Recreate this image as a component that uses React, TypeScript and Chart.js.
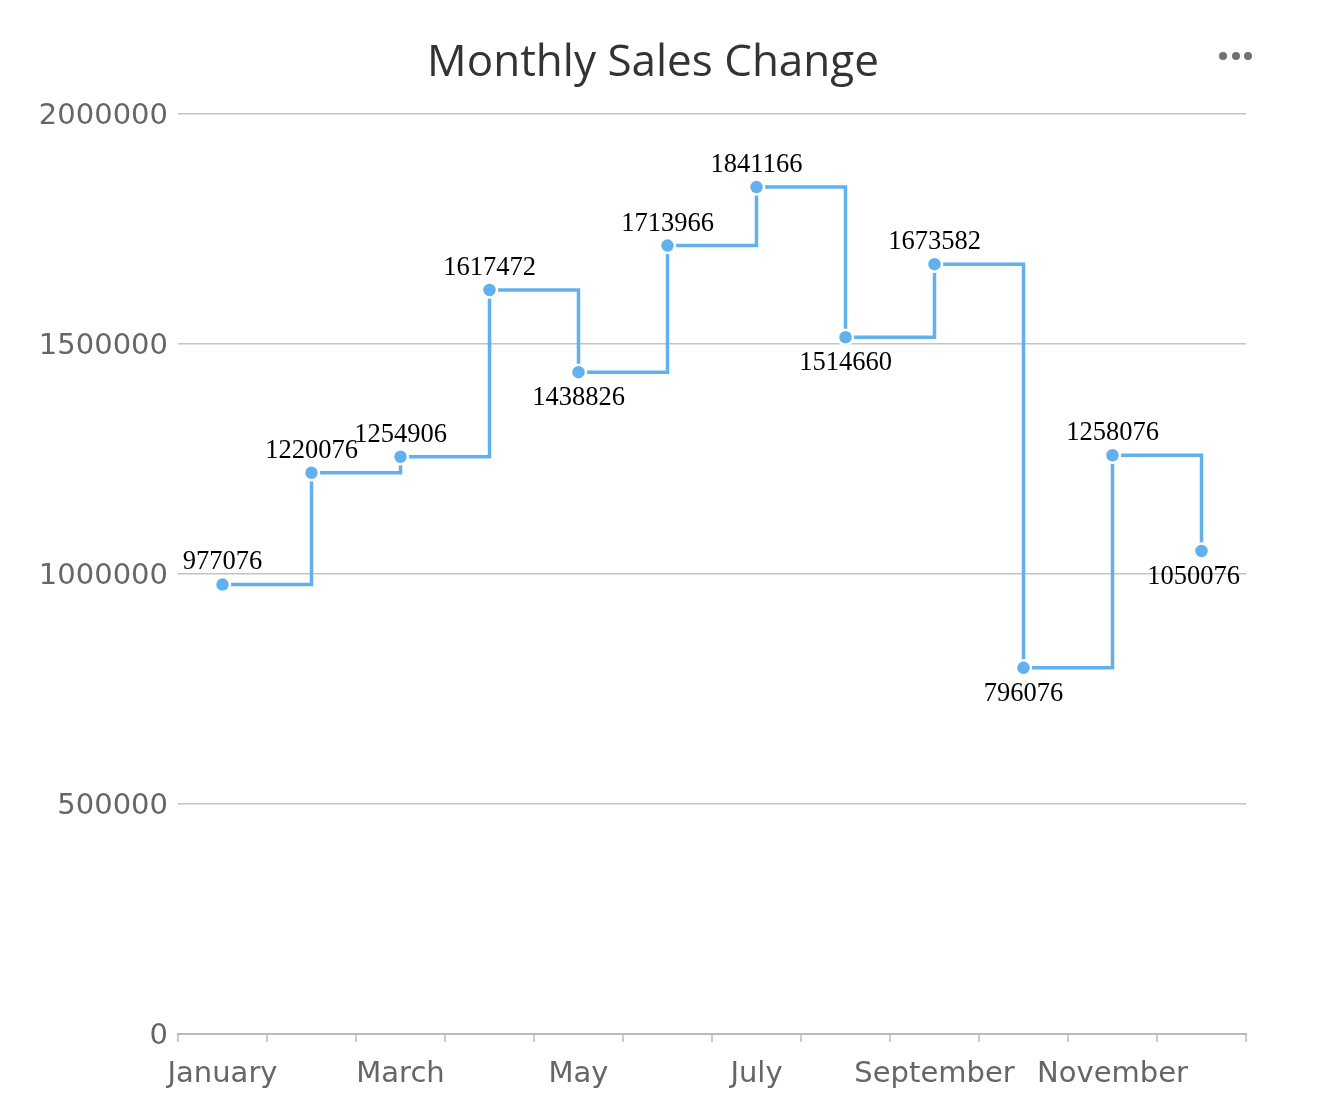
import React, { useEffect, useRef } from "react";
import { Chart, registerables } from "chart.js";

Chart.register(...registerables);

const months = [
  "January", "February", "March", "April", "May", "June",
  "July", "August", "September", "October", "November", "December",
];
const sales = [
  977076, 1220076, 1254906, 1617472, 1438826, 1713966,
  1841166, 1514660, 1673582, 796076, 1258076, 1050076,
];
const yTicks = [0, 500000, 1000000, 1500000, 2000000];
const titleText = "Monthly Sales Change";

const W = 1328;
const H = 1109;

const overlayPlugin = {
  id: "overlay",
  afterDraw(chart: any) {
    const ctx = chart.ctx;
    ctx.save();
    // title
    ctx.fillStyle = "#333333";
    ctx.font = '44px "Open Sans"';
    ctx.textAlign = "center";
    ctx.textBaseline = "middle";
    ctx.fillText(titleText, 653, 63);
    // menu dots
    ctx.fillStyle = "#707070";
    [1223, 1236, 1248].forEach((x) => {
      ctx.beginPath();
      ctx.arc(x, 56, 4, 0, Math.PI * 2);
      ctx.fill();
    });
    // data labels
    const meta = chart.getDatasetMeta(0);
    ctx.font = '26.5px "Liberation Serif"';
    ctx.fillStyle = "#000000";
    meta.data.forEach((pt: any, i: number) => {
      const v = sales[i];
      const above = i === 0 || v >= sales[i - 1];
      const txt = String(v);
      const w = ctx.measureText(txt).width;
      let x = pt.x;
      const maxX = chart.chartArea.right - 6;
      if (x + w / 2 > maxX) x = maxX - w / 2;
      const y = above ? pt.y - 22 : pt.y + 26;
      ctx.fillText(txt, x, y);
    });
    ctx.restore();
  },
};

export default function App() {
  const ref = useRef<HTMLCanvasElement | null>(null);
  useEffect(() => {
    if (!ref.current) return;
    const chart = new Chart(ref.current, {
      type: "line",
      data: {
        labels: months,
        datasets: [
          {
            data: sales,
            stepped: "before",
            borderColor: "#63b1ec",
            borderWidth: 3.5,
            backgroundColor: "#63b1ec",
            pointBackgroundColor: "#63b1ec",
            pointBorderColor: "#ffffff",
            pointBorderWidth: 2.5,
            pointRadius: 7.5,
            fill: false,
          },
        ],
      },
      options: {
        animation: false,
        responsive: false,
        layout: { padding: { left: 40, right: 82, top: 114, bottom: 0 } },
        plugins: {
          legend: { display: false },
          title: { display: false },
          tooltip: { enabled: false },
        },
        scales: {
          x: {
            type: "category",
            offset: true,
            afterFit(scale: any) {
              scale.height = H - 1034;
            },
            grid: {
              offset: true,
              drawOnChartArea: false,
              drawTicks: true,
              tickLength: 8,
              color: "#cccccc",
              lineWidth: 2,
            },
            border: { display: true, color: "#bbbbbb", width: 2 },
            ticks: {
              autoSkip: false,
              maxRotation: 0,
              padding: 15,
              color: "#666666",
              font: { family: '"DejaVu Sans"', size: 29 },
              callback: (_v: any, i: number) => (i % 2 === 0 ? months[i] : ""),
            },
          },
          y: {
            min: 0,
            max: 2000000,
            afterFit(scale: any) {
              scale.width = 138;
            },
            afterBuildTicks(scale: any) {
              scale.ticks = yTicks.map((v) => ({ value: v }));
            },
            grid: {
              drawTicks: false,
              color: "#c4c4c4",
              lineWidth: 1.5,
            },
            border: { display: false },
            ticks: {
              padding: 10,
              labelOffset: 2,
              color: "#666666",
              font: { family: '"DejaVu Sans"', size: 29 },
              callback: (v: any) => String(v),
            },
          },
        },
      },
      plugins: [overlayPlugin],
    });
    return () => chart.destroy();
  }, []);
  return (
    <div style={{ position: "fixed", left: 0, top: 0, width: W, height: H, background: "#fff" }}>
      <canvas ref={ref} width={W} height={H} style={{ width: W, height: H, display: "block" }} />
    </div>
  );
}
